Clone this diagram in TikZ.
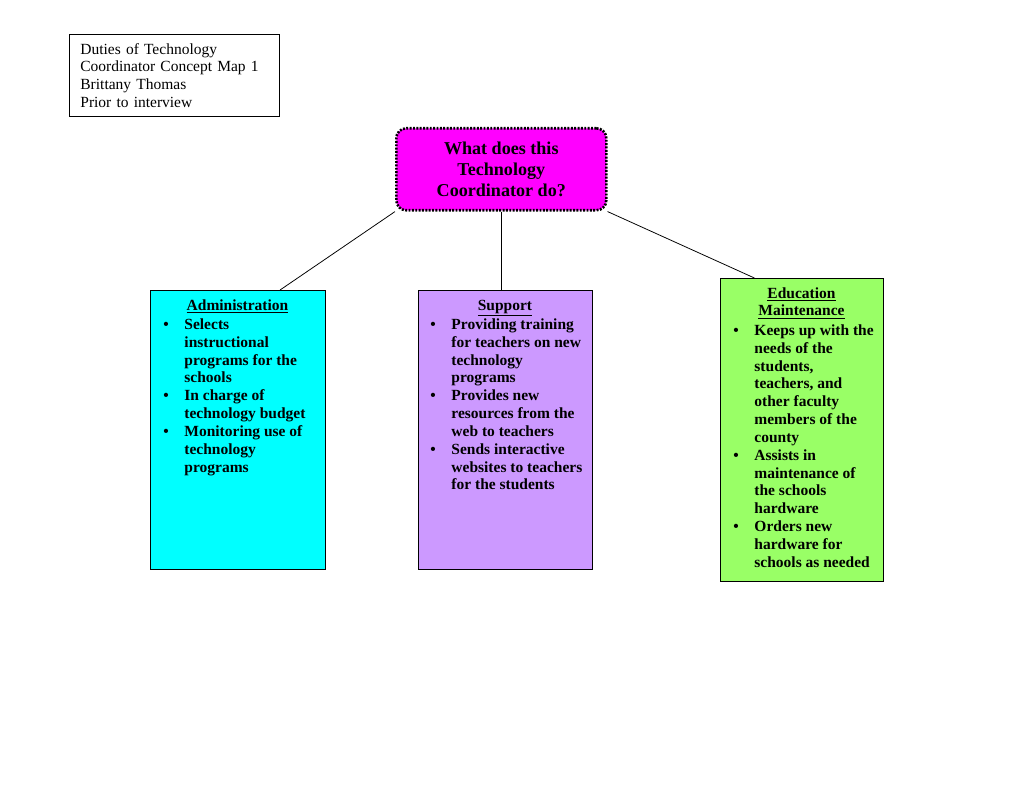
\documentclass[tikz,border=0pt]{standalone}
\usepackage{fontspec}
\setmainfont{Liberation Serif}
\usetikzlibrary{calc}
\newdimen\pxu \pxu=0.7742pt
\definecolor{mapmagenta}{HTML}{FF00FF}
\definecolor{mapcyan}{HTML}{00FFFF}
\definecolor{maplilac}{HTML}{CC99FF}
\definecolor{mapgreen}{HTML}{99FF66}
\begin{document}
\begin{tikzpicture}[x=\pxu,y=-\pxu,line width=0.6pt,
  every node/.style={font=\fontsize{12}{13.8}\selectfont},
  dutybox/.style={draw,anchor=north west,inner sep=0pt},
  dutyhead/.style={anchor=base,inner sep=0pt,align=center,font=\fontsize{12}{13.8}\selectfont\bfseries},
  dutylist/.style={anchor=base west,inner sep=0pt,font=\fontsize{12}{13.8}\selectfont\bfseries}]
\useasboundingbox (0,0) rectangle (1023,791);
% caption in the corner
\node[draw,anchor=north west,minimum width=210\pxu,minimum height=82\pxu,text width=188\pxu,inner xsep=11\pxu,inner ysep=0pt,align=left] (caption) at (69,34) {Duties of Technology\\Coordinator Concept Map 1\\Brittany Thomas\\Prior to interview};
% central question
\node[draw,fill=mapmagenta,rounded corners=10\pxu,line width=2pt,dash pattern=on 1.5pt off 1.1pt,anchor=north west,minimum width=210\pxu,minimum height=82\pxu,align=center,font=\fontsize{14}{16.1}\selectfont\bfseries] (question) at (395,127) {What does this\\Technology\\Coordinator do?};
% administration
\node[dutybox,fill=mapcyan,minimum width=175\pxu,minimum height=279\pxu] (admin) at (150,290) {};
\node[dutyhead] (adminhead) at (237.5,310.5) {\underline{Administration}};
\node[dutylist] (adminlist) at (163,329.5) {\begin{tabular}[t]{@{}p{16.3pt}@{}l@{}}
\textbullet & Selects\\ & instructional\\ & programs for the\\ & schools\\
\textbullet & In charge of\\ & technology budget\\
\textbullet & Monitoring use of\\ & technology\\ & programs
\end{tabular}};
% support
\node[dutybox,fill=maplilac,minimum width=174\pxu,minimum height=279\pxu] (support) at (418,290) {};
\node[dutyhead] (supporthead) at (505,310.5) {\underline{Support}};
\node[dutylist] (supportlist) at (430,329.5) {\begin{tabular}[t]{@{}p{16.3pt}@{}l@{}}
\textbullet & Providing training\\ & for teachers on new\\ & technology\\ & programs\\
\textbullet & Provides new\\ & resources from the\\ & web to teachers\\
\textbullet & Sends interactive\\ & websites to teachers\\ & for the students
\end{tabular}};
% education maintenance
\node[dutybox,fill=mapgreen,minimum width=163\pxu,minimum height=303\pxu] (edu) at (720,278) {};
\node[dutyhead] (eduhead) at (801.5,316) {\underline{Education}\\\underline{Maintenance}};
\node[dutylist] (edulist) at (733,335.5) {\begin{tabular}[t]{@{}p{16.3pt}@{}l@{}}
\textbullet & Keeps up with the\\ & needs of the\\ & students,\\ & teachers, and\\ & other faculty\\ & members of the\\ & county\\
\textbullet & Assists in\\ & maintenance of\\ & the schools\\ & hardware\\
\textbullet & Orders new\\ & hardware for\\ & schools as needed
\end{tabular}};
% links
\draw (question.south west) -- ($(admin.north west)!0.74!(admin.north east)$);
\draw (question.south) -- (question.south |- support.north);
\draw (question.south east) -- ($(edu.north west)!0.21!(edu.north east)$);
\end{tikzpicture}
\end{document}
